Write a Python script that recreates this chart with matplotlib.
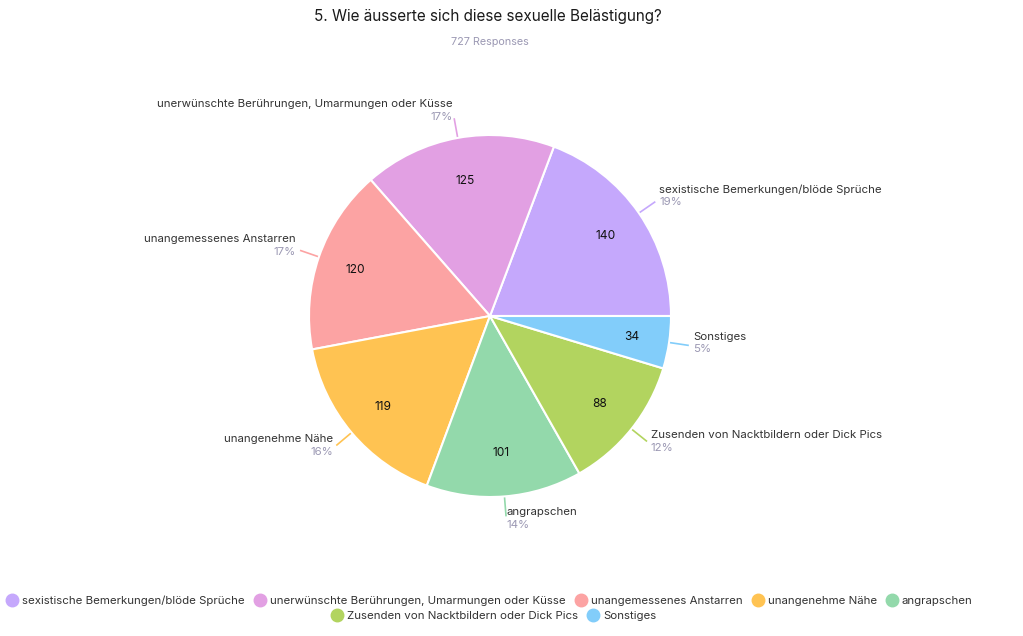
import numpy as np
import matplotlib
matplotlib.use("Agg")
import matplotlib.pyplot as plt
from matplotlib.lines import Line2D

categories = [
    "sexistische Bemerkungen/blöde Sprüche",
    "unerwünschte Berührungen, Umarmungen oder Küsse",
    "unangemessenes Anstarren",
    "unangenehme Nähe",
    "angrapschen",
    "Zusenden von Nacktbildern oder Dick Pics",
    "Sonstiges",
]
values = [140, 125, 120, 119, 101, 88, 34]
percent_labels = ["19%", "17%", "17%", "16%", "14%", "12%", "5%"]
title = "5. Wie äusserte sich diese sexuelle Belästigung?"
subtitle = "727 Responses"

colors = ["#c5a8fc", "#e2a0e3", "#fca3a3", "#ffc352", "#93d9ab", "#b2d45f", "#82cdfa"]

plt.rcParams['font.family'] = ['Inter', 'DejaVu Sans']

W, H = 1023, 636
fig = plt.figure(figsize=(W / 100, H / 100), dpi=100)
ax = fig.add_axes([0, 0, 1, 1])

cx, cy = 490, H - 316
R = 181

wedges, _ = ax.pie(values, colors=colors, startangle=0, counterclock=True,
                   center=(cx, cy), radius=R, frame=True,
                   wedgeprops=dict(edgecolor="white", linewidth=1.5))

total = sum(values)
cum = np.cumsum([0] + values)
for i, (cat, v, pct) in enumerate(zip(categories, values, percent_labels)):
    mid = np.deg2rad((cum[i] + v / 2) / total * 360)
    c, s = np.cos(mid), np.sin(mid)
    # value label
    rv = 143 - 6 * s * s
    ax.text(cx + rv * c, cy + rv * s, str(v), ha="center", va="center",
            fontsize=8.6, color="#111111")
    # leader line
    x0, y0 = cx + 182 * c, cy + 182 * s
    x1, y1 = cx + 201 * c, cy + 201 * s
    ax.add_line(Line2D([x0, x1], [y0, y1], color=colors[i], lw=1.2,
                       solid_capstyle="butt"))
    gap = 4 * abs(c) + 0.5
    if c >= 0:
        tx, ha = x1 + gap, "left"
    else:
        tx, ha = x1 - gap, "right"
    yb = y1 + 3 + 5 * s
    ax.text(tx, yb + 6.3, cat, ha=ha, va="center", fontsize=8.25, color="#333333")
    ax.text(tx, yb - 6.3, pct, ha=ha, va="center", fontsize=8.25, color="#9b98b3")

ax.set_xlim(0, W)
ax.set_ylim(0, H)
ax.set_aspect("equal", adjustable="box")
ax.axis("off")

ax.text(488, H - 16, title, ha="center", va="center", fontsize=11.0, color="#1a1a1a")
ax.text(490, H - 42, subtitle, ha="center", va="center", fontsize=7.8, color="#9b98b3")

def handles(idx):
    return [Line2D([], [], marker="o", linestyle="none", markersize=9,
                   markerfacecolor=colors[i], markeredgecolor=colors[i]) for i in idx]

row1 = [0, 1, 2, 3, 4]
row2 = [5, 6]
leg1 = ax.legend(handles(row1), [categories[i] for i in row1], loc="center",
                 bbox_to_anchor=(490, H - 601), bbox_transform=ax.transData,
                 ncol=5, frameon=False, fontsize=8.25, handlelength=0.9,
                 handletextpad=0.4, columnspacing=0.9, borderpad=0, borderaxespad=0)
for t in leg1.get_texts():
    t.set_color("#333333")
ax.add_artist(leg1)
leg2 = ax.legend(handles(row2), [categories[i] for i in row2], loc="center",
                 bbox_to_anchor=(494, H - 616), bbox_transform=ax.transData,
                 ncol=2, frameon=False, fontsize=8.25, handlelength=0.9,
                 handletextpad=0.4, columnspacing=0.9, borderpad=0, borderaxespad=0)
for t in leg2.get_texts():
    t.set_color("#333333")

fig.savefig("out.png", dpi=100)
